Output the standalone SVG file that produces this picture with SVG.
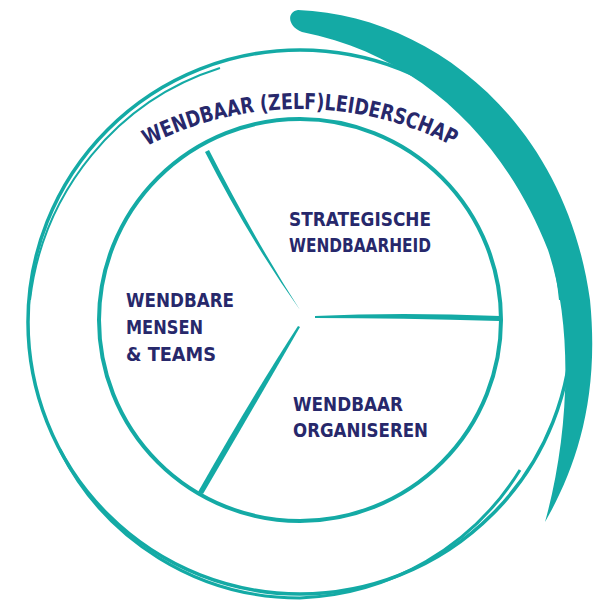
<svg xmlns="http://www.w3.org/2000/svg" width="600" height="610" viewBox="0 0 600 610">
<style>
.ring{fill:none;stroke:#14aaa5}
.t{font-family:"DejaVu Sans",sans-serif;font-weight:bold;fill:#27286b}
</style>
<defs><path id="arc" d="M90,183 A335,335 0 0 1 510,183"/></defs>
<rect width="600" height="610" fill="#fff"/>
<g id="outer">
<circle class="ring" cx="300" cy="322" r="272" stroke-width="3.5"/>
<path class="ring" stroke-width="2" d="M30,300 A272,278 0 0 1 220,68"/>
<path class="ring" stroke-width="2" d="M380,42 A285,285 0 0 1 575,330"/>
<path class="ring" stroke-width="2" d="M488,142 A262,262 0 0 1 560,300"/>
<path class="ring" stroke-width="3" d="M60,450 A268,268 0 0 0 300,598 A270,270 0 0 0 520,470"/>
<path fill="#14aaa5" d="M298,10 C430,15 565,120 590,300 C600,400 575,470 545,522 C568,440 575,330 548,250 C505,140 420,55 302,32 C288,27 286,12 298,10Z"/>
</g>
<g id="title"><text class="t" font-size="22"><textPath href="#arc" startOffset="50%" text-anchor="middle" textLength="318" lengthAdjust="spacingAndGlyphs">WENDBAAR (ZELF)LEIDERSCHAP</textPath></text></g>
<g id="inner"><circle class="ring" cx="300" cy="320" r="201" stroke-width="4"/></g>
<g id="connectors" fill="#14aaa5">
<path d="M205,152 Q250,240 300,310 Q255,240 209,150Z"/>
<path d="M315,316 Q400,312 500,316 L499,321 Q400,318 315,318Z"/>
<path d="M298,326 Q250,400 198,492 L203,494 Q255,405 300,327Z"/>
</g>
<g id="n1"><text class="t" font-size="20" x="289" y="226" textLength="142" lengthAdjust="spacingAndGlyphs">STRATEGISCHE</text><text class="t" font-size="20" x="289" y="252" textLength="142" lengthAdjust="spacingAndGlyphs">WENDBAARHEID</text></g>
<g id="n2"><text class="t" font-size="20" x="126" y="307" textLength="108" lengthAdjust="spacingAndGlyphs">WENDBARE</text><text class="t" font-size="20" x="126" y="334" textLength="77" lengthAdjust="spacingAndGlyphs">MENSEN</text><text class="t" font-size="20" x="126" y="361" textLength="90" lengthAdjust="spacingAndGlyphs">&amp; TEAMS</text></g>
<g id="n3"><text class="t" font-size="20" x="293" y="411" textLength="110" lengthAdjust="spacingAndGlyphs">WENDBAAR</text><text class="t" font-size="20" x="293" y="437" textLength="135" lengthAdjust="spacingAndGlyphs">ORGANISEREN</text></g>
</svg>
